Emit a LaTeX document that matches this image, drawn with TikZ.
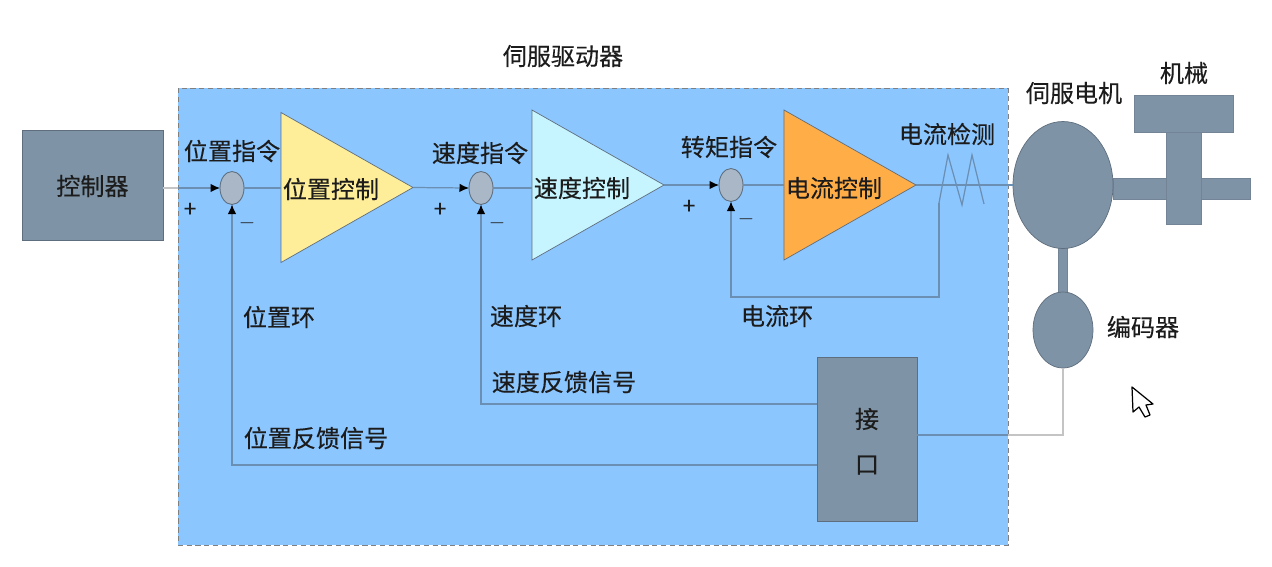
\documentclass[tikz,border=0pt]{standalone}
\usepackage{fontspec}
\setmainfont{Noto Sans CJK SC}[FakeBold=.25]
\usetikzlibrary{shapes.geometric,arrows.meta}
\definecolor{drvblue}{HTML}{8CC6FF}
\definecolor{blockgray}{HTML}{7F93A6}
\definecolor{sumgray}{HTML}{A9B7C6}
\definecolor{edgegray}{HTML}{5E6E7E}
\definecolor{posyellow}{HTML}{FFEE99}
\definecolor{velcyan}{HTML}{C6F5FF}
\definecolor{curorange}{HTML}{FFAD47}
\definecolor{wireblue}{HTML}{6A8FB3}
\definecolor{wireout}{HTML}{C4C4C4}
\definecolor{txt}{HTML}{1C1C1C}
\tikzset{
	lbl/.style={text=txt,font=\fontsize{13.7pt}{15pt}\selectfont,inner sep=0pt},
	sgn/.style={text=txt,font=\fontsize{13pt}{15pt}\selectfont,inner sep=0pt},
	block/.style={draw=edgegray,line width=.4pt,fill=blockgray,inner sep=0pt,outer sep=0pt},
	part/.style={block,draw=blockgray!90!black},
	summer/.style={draw=edgegray,line width=.5pt,fill=sumgray,ellipse,inner sep=0pt,outer sep=0pt,minimum width=.48cm,minimum height=.66cm},
	amp/.style={draw=edgegray,line width=.4pt,isosceles triangle,isosceles triangle stretches,shape border rotate=0,inner sep=0pt,outer sep=0pt,minimum width=3cm,minimum height=2.64cm,anchor=apex},
	wire/.style={wireblue,line width=.7pt},
	outwire/.style={wireout,line width=.8pt},
	arr/.style={wire,-{Latex[length=.19cm,width=.17cm,black]}}
}
\begin{document}
\begin{tikzpicture}[x=.02cm,y=-.02cm]
	\useasboundingbox (0,0) rectangle (1272,566);
	\fill[white] (0,0) rectangle (1272,566);

	\draw[fill=drvblue,draw=gray,densely dashed,line width=.4pt] (178,88) rectangle (1008,545);

	\node[block,minimum width=2.82cm,minimum height=2.2cm] (ctrl) at (92.5,185) {};
	\node[lbl] (ctrltxt) at (92.5,186) {控制器};

	\node[summer] (sumpos) at (232,188) {};
	\node[summer] (sumvel) at (481,188) {};
	\node[summer] (sumcur) at (731,185) {};

	\node[amp,fill=posyellow] (amppos) at (413,187.5) {};
	\node[amp,fill=velcyan] (ampvel) at (664,185) {};
	\node[amp,fill=curorange] (ampcur) at (916,185) {};

	\node[lbl] (amppostxt) at (331,189) {位置控制};
	\node[lbl] (ampveltxt) at (582,188) {速度控制};
	\node[lbl] (ampcurtxt) at (834,188) {电流控制};

	\node[block,minimum width=2cm,minimum height=3.28cm] (iface) at (867,439) {};
	\node[lbl] (ifacea) at (867,419) {接};
	\node[lbl] (ifaceb) at (867,465) {口};

	% motor and load
	\node[part,minimum width=2.74cm,minimum height=.42cm] (shaft) at (1181.5,188.5) {};
	\node[part,minimum width=.7cm,minimum height=1.84cm] (loadstem) at (1183.5,178) {};
	\node[part,minimum width=1.98cm,minimum height=.74cm] (loadtop) at (1183.5,113.5) {};
	\node[part,minimum width=.18cm,minimum height=.9cm] (neck) at (1062.5,270.5) {};
	\node[block,ellipse,minimum width=2cm,minimum height=2.54cm] (motor) at (1063,185) {};
	\node[block,ellipse,minimum width=1.2cm,minimum height=1.52cm] (enc) at (1063,330) {};

	% signal path
	\coordinate (drvin) at (178,188);
	\coordinate (drvout) at (1008,435);
	\draw[outwire] (ctrl.east |- sumpos) -- (drvin);
	\draw[arr] (drvin) -- (sumpos.west);
	\draw[wire] (sumpos.east) -- (amppos.west |- sumpos);
	\draw[arr] (amppos.apex) -- (sumvel.west);
	\draw[wire] (sumvel.east) -- (ampvel.west |- sumvel);
	\draw[arr] (ampvel.apex) -- (sumcur.west);
	\draw[wire] (sumcur.east) -- (ampcur.west |- sumcur);
	\draw[wire] (ampcur.apex) -- (motor.west);

	% current sensor
	\coordinate (cs0) at (939,203);
	\draw[wire] (cs0) -- (948,155) -- (962,205) -- (972,155) -- (984,204);

	% feedback
	\draw[arr] (cs0) |- (731,297) -- (sumcur.south);
	\draw[arr] (iface.west |- 0,404) -| (sumvel.south);
	\draw[arr] (iface.west |- 0,465) -| (sumpos.south);
	\draw[wire] (iface.east |- drvout) -- (drvout);
	\draw[outwire] (drvout) -| (enc.south);

	\node[lbl] (title) at (563,56) {伺服驱动器};
	\node[lbl] (cmdpos) at (232,151) {位置指令};
	\node[lbl] (cmdvel) at (480,153) {速度指令};
	\node[lbl] (cmdtrq) at (729,147) {转矩指令};
	\node[lbl] (sense) at (947,134) {电流检测};
	\node[lbl] (motortxt) at (1074,93) {伺服电机};
	\node[lbl] (loadtxt) at (1184,73) {机械};
	\node[lbl] (enctxt) at (1143,327) {编码器};
	\node[lbl] (looppos) at (279,317) {位置环};
	\node[lbl] (loopvel) at (526,316) {速度环};
	\node[lbl] (loopcur) at (777,316) {电流环};
	\node[lbl] (fbvel) at (564,382) {速度反馈信号};
	\node[lbl] (fbpos) at (316,438) {位置反馈信号};

	\node[sgn] (plusa) at (190,210) {+};
	\node[sgn] (minusa) at (247,223) {$-$};
	\node[sgn] (plusb) at (440,210) {+};
	\node[sgn] (minusb) at (497,223) {$-$};
	\node[sgn] (plusc) at (689,207) {+};
	\node[sgn] (minusc) at (746,219) {$-$};

	% pointer
	\draw[draw=black,fill=white,line width=.7pt,line join=round] (1132,387) -- (1133,412) -- (1139,407) -- (1145,417) -- (1150,415) -- (1146,405) -- (1153,404) -- cycle;
\end{tikzpicture}
\end{document}
